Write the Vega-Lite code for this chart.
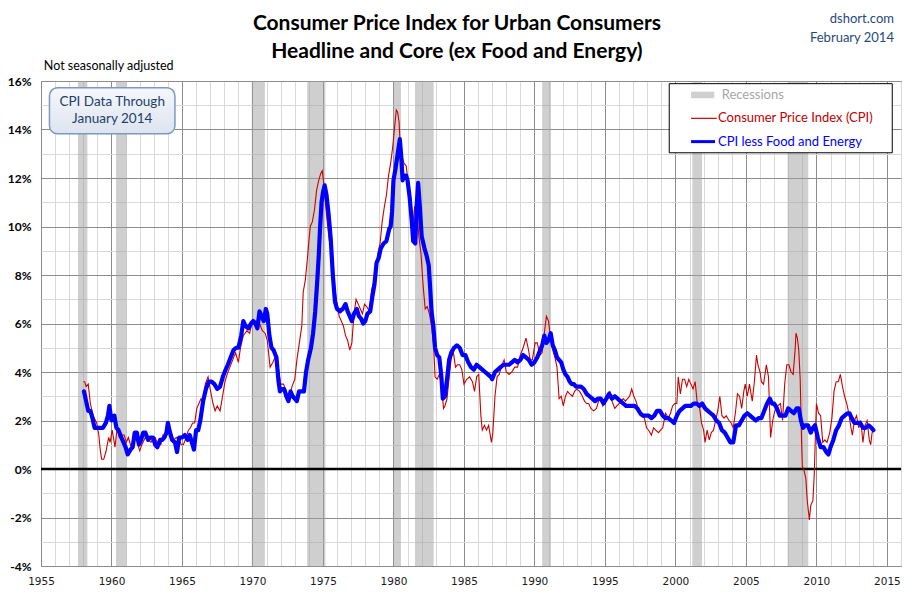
{
  "$schema": "https://vega.github.io/schema/vega-lite/v6.json",
  "width": 860,
  "height": 485,
  "autosize": {"type": "none"},
  "padding": {"left": 41, "top": 81, "right": 15, "bottom": 33},
  "background": "white",
  "config": {
    "view": {"stroke": "#7f7f7f", "strokeWidth": 1},
    "axisX": {"labelFont": "DejaVu Sans", "labelFontSize": 10.5, "labelPadding": 10, "ticks": false, "domain": false, "grid": true, "gridWidth": 1, "labelOverlap": false, "labelColor": "#1a1a1a", "labelFlush": false, "labelBound": false},
    "axisY": {"labelFont": "Lato", "labelFontSize": 12, "labelFontWeight": "bold", "labelPadding": 10, "ticks": false, "domain": false, "grid": true, "gridWidth": 1, "labelOverlap": false, "labelColor": "#000000", "labelFlush": false, "labelBound": false}
  },
  "datasets": {
    "recessions": [
      {"start": 1957.62, "end": 1958.29},
      {"start": 1960.32, "end": 1961.07},
      {"start": 1969.95, "end": 1970.88},
      {"start": 1973.88, "end": 1975.17},
      {"start": 1980.0, "end": 1980.53},
      {"start": 1981.53, "end": 1982.85},
      {"start": 1990.55, "end": 1991.17},
      {"start": 2001.2, "end": 2001.88},
      {"start": 2007.96, "end": 2009.42}
    ],
    "cpi": [
      {"t":1958.0,"v":3.6},{"t":1958.1,"v":3.6},{"t":1958.2,"v":3.4},{"t":1958.35,"v":3.5},{"t":1958.5,"v":2.7},{"t":1958.7,"v":2.2},{"t":1958.95,"v":1.9},
      {"t":1959.1,"v":1.4},{"t":1959.2,"v":0.8},{"t":1959.3,"v":0.4},{"t":1959.45,"v":0.4},{"t":1959.6,"v":0.7},{"t":1959.8,"v":1.3},{"t":1959.9,"v":1.1},
      {"t":1960.05,"v":1.6},{"t":1960.25,"v":0.9},{"t":1960.4,"v":1.7},{"t":1960.55,"v":1.3},{"t":1960.7,"v":1.4},{"t":1960.9,"v":1.4},
      {"t":1961.05,"v":1.1},{"t":1961.2,"v":1.3},{"t":1961.45,"v":0.8},{"t":1961.6,"v":1.3},{"t":1961.8,"v":1.15},
      {"t":1962.0,"v":0.75},{"t":1962.15,"v":1.0},{"t":1962.4,"v":1.3},{"t":1962.6,"v":1.2},{"t":1962.8,"v":1.1},{"t":1962.95,"v":1.3},
      {"t":1963.1,"v":1.3},{"t":1963.3,"v":1.0},{"t":1963.5,"v":1.0},{"t":1963.65,"v":1.4},{"t":1963.85,"v":1.3},
      {"t":1964.0,"v":1.6},{"t":1964.2,"v":1.6},{"t":1964.4,"v":1.2},{"t":1964.6,"v":1.3},{"t":1964.8,"v":1.2},{"t":1964.95,"v":1.0},
      {"t":1965.1,"v":1.0},{"t":1965.3,"v":1.3},{"t":1965.45,"v":1.6},{"t":1965.6,"v":1.7},{"t":1965.75,"v":1.9},{"t":1965.9,"v":1.9},
      {"t":1966.05,"v":2.5},{"t":1966.2,"v":2.7},{"t":1966.35,"v":2.9},{"t":1966.5,"v":2.8},{"t":1966.65,"v":3.5},{"t":1966.85,"v":3.8},
      {"t":1967.0,"v":3.3},{"t":1967.2,"v":2.7},{"t":1967.35,"v":2.4},{"t":1967.5,"v":2.6},{"t":1967.7,"v":2.4},{"t":1967.85,"v":2.9},
      {"t":1968.05,"v":3.6},{"t":1968.2,"v":3.9},{"t":1968.4,"v":4.2},{"t":1968.6,"v":4.5},{"t":1968.8,"v":4.8},
      {"t":1969.0,"v":4.4},{"t":1969.15,"v":5.0},{"t":1969.35,"v":5.5},{"t":1969.6,"v":5.7},{"t":1969.8,"v":5.6},{"t":1969.95,"v":6.0},
      {"t":1970.15,"v":6.1},{"t":1970.3,"v":6.1},{"t":1970.5,"v":6.0},{"t":1970.7,"v":5.7},{"t":1970.9,"v":5.6},
      {"t":1971.05,"v":5.3},{"t":1971.25,"v":4.2},{"t":1971.45,"v":4.4},{"t":1971.6,"v":4.6},{"t":1971.8,"v":4.3},
      {"t":1972.0,"v":3.5},{"t":1972.2,"v":3.5},{"t":1972.4,"v":3.2},{"t":1972.6,"v":2.9},{"t":1972.8,"v":3.4},
      {"t":1973.0,"v":3.7},{"t":1973.15,"v":4.5},{"t":1973.3,"v":5.1},{"t":1973.5,"v":5.9},{"t":1973.6,"v":7.3},{"t":1973.75,"v":7.8},{"t":1973.9,"v":8.7},
      {"t":1974.0,"v":9.4},{"t":1974.1,"v":10.0},{"t":1974.25,"v":10.2},{"t":1974.4,"v":10.7},{"t":1974.55,"v":11.5},{"t":1974.7,"v":11.9},{"t":1974.85,"v":12.2},{"t":1974.95,"v":12.3},
      {"t":1975.05,"v":11.8},{"t":1975.15,"v":11.1},{"t":1975.3,"v":10.2},{"t":1975.45,"v":9.4},{"t":1975.55,"v":9.7},{"t":1975.7,"v":8.6},{"t":1975.85,"v":7.4},
      {"t":1976.0,"v":6.8},{"t":1976.15,"v":6.3},{"t":1976.3,"v":6.1},{"t":1976.45,"v":5.9},{"t":1976.6,"v":5.5},{"t":1976.75,"v":5.3},{"t":1976.9,"v":4.9},
      {"t":1977.05,"v":5.2},{"t":1977.2,"v":6.4},{"t":1977.35,"v":7.0},{"t":1977.5,"v":6.8},{"t":1977.65,"v":6.6},{"t":1977.8,"v":6.4},{"t":1977.95,"v":6.8},
      {"t":1978.1,"v":6.7},{"t":1978.3,"v":6.5},{"t":1978.45,"v":7.4},{"t":1978.6,"v":7.7},{"t":1978.75,"v":8.3},{"t":1978.9,"v":8.9},
      {"t":1979.05,"v":9.3},{"t":1979.2,"v":10.2},{"t":1979.35,"v":10.8},{"t":1979.5,"v":11.3},{"t":1979.65,"v":12.1},{"t":1979.8,"v":12.6},{"t":1979.95,"v":13.3},
      {"t":1980.05,"v":13.9},{"t":1980.2,"v":14.8},{"t":1980.3,"v":14.7},{"t":1980.4,"v":14.3},{"t":1980.5,"v":13.1},{"t":1980.6,"v":12.9},{"t":1980.75,"v":12.6},{"t":1980.9,"v":12.5},
      {"t":1981.05,"v":11.8},{"t":1981.2,"v":10.5},{"t":1981.35,"v":9.9},{"t":1981.5,"v":10.8},{"t":1981.65,"v":10.9},{"t":1981.8,"v":9.6},{"t":1981.95,"v":8.9},
      {"t":1982.1,"v":7.6},{"t":1982.25,"v":6.6},{"t":1982.4,"v":6.7},{"t":1982.55,"v":6.4},{"t":1982.7,"v":5.9},{"t":1982.85,"v":5.1},{"t":1982.95,"v":3.8},
      {"t":1983.1,"v":3.7},{"t":1983.25,"v":3.9},{"t":1983.4,"v":3.5},{"t":1983.55,"v":2.5},{"t":1983.65,"v":2.6},{"t":1983.8,"v":2.9},{"t":1983.95,"v":3.8},
      {"t":1984.1,"v":4.6},{"t":1984.25,"v":4.8},{"t":1984.4,"v":4.2},{"t":1984.55,"v":4.3},{"t":1984.7,"v":4.3},{"t":1984.85,"v":4.1},
      {"t":1985.0,"v":3.5},{"t":1985.2,"v":3.7},{"t":1985.4,"v":3.8},{"t":1985.6,"v":3.6},{"t":1985.75,"v":3.2},{"t":1985.9,"v":3.8},
      {"t":1986.05,"v":3.9},{"t":1986.2,"v":2.2},{"t":1986.3,"v":1.6},{"t":1986.45,"v":1.8},{"t":1986.6,"v":1.6},{"t":1986.75,"v":1.8},{"t":1986.95,"v":1.1},
      {"t":1987.05,"v":1.5},{"t":1987.2,"v":3.0},{"t":1987.35,"v":3.8},{"t":1987.5,"v":3.9},{"t":1987.7,"v":4.3},{"t":1987.85,"v":4.5},
      {"t":1988.0,"v":4.0},{"t":1988.2,"v":3.9},{"t":1988.4,"v":4.0},{"t":1988.6,"v":4.2},{"t":1988.8,"v":4.2},
      {"t":1989.0,"v":4.7},{"t":1989.2,"v":5.0},{"t":1989.4,"v":5.4},{"t":1989.55,"v":5.0},{"t":1989.7,"v":4.5},{"t":1989.85,"v":4.5},
      {"t":1990.05,"v":5.2},{"t":1990.2,"v":5.2},{"t":1990.4,"v":4.7},{"t":1990.55,"v":4.8},{"t":1990.7,"v":5.6},{"t":1990.85,"v":6.3},
      {"t":1991.0,"v":6.1},{"t":1991.1,"v":5.6},{"t":1991.3,"v":4.9},{"t":1991.45,"v":4.6},{"t":1991.6,"v":4.2},{"t":1991.75,"v":2.9},{"t":1991.9,"v":3.0},
      {"t":1992.05,"v":2.6},{"t":1992.2,"v":3.0},{"t":1992.35,"v":3.2},{"t":1992.5,"v":3.1},{"t":1992.7,"v":3.0},{"t":1992.85,"v":3.2},
      {"t":1993.0,"v":3.3},{"t":1993.2,"v":3.2},{"t":1993.4,"v":3.0},{"t":1993.55,"v":2.8},{"t":1993.7,"v":2.7},{"t":1993.85,"v":2.7},
      {"t":1994.0,"v":2.5},{"t":1994.2,"v":2.4},{"t":1994.4,"v":2.5},{"t":1994.55,"v":2.8},{"t":1994.7,"v":2.9},{"t":1994.85,"v":2.6},
      {"t":1995.0,"v":2.8},{"t":1995.2,"v":3.1},{"t":1995.35,"v":3.2},{"t":1995.5,"v":2.8},{"t":1995.7,"v":2.5},{"t":1995.85,"v":2.6},
      {"t":1996.0,"v":2.7},{"t":1996.15,"v":2.8},{"t":1996.3,"v":2.9},{"t":1996.45,"v":2.8},{"t":1996.6,"v":2.9},{"t":1996.75,"v":3.0},{"t":1996.9,"v":3.3},
      {"t":1997.05,"v":3.0},{"t":1997.2,"v":2.8},{"t":1997.35,"v":2.5},{"t":1997.5,"v":2.2},{"t":1997.65,"v":2.2},{"t":1997.8,"v":2.1},{"t":1997.95,"v":1.7},
      {"t":1998.1,"v":1.6},{"t":1998.3,"v":1.4},{"t":1998.45,"v":1.7},{"t":1998.6,"v":1.6},{"t":1998.8,"v":1.5},{"t":1998.95,"v":1.6},
      {"t":1999.1,"v":1.7},{"t":1999.3,"v":2.3},{"t":1999.5,"v":2.1},{"t":1999.65,"v":2.3},{"t":1999.8,"v":2.6},{"t":1999.95,"v":2.7},
      {"t":2000.1,"v":2.7},{"t":2000.2,"v":3.8},{"t":2000.35,"v":3.1},{"t":2000.5,"v":3.7},{"t":2000.65,"v":3.7},{"t":2000.8,"v":3.4},{"t":2000.95,"v":3.7},
      {"t":2001.1,"v":3.5},{"t":2001.25,"v":3.3},{"t":2001.4,"v":3.6},{"t":2001.55,"v":2.7},{"t":2001.7,"v":2.6},{"t":2001.85,"v":1.9},
      {"t":2002.0,"v":1.6},{"t":2002.1,"v":1.1},{"t":2002.25,"v":1.6},{"t":2002.4,"v":1.2},{"t":2002.55,"v":1.5},{"t":2002.7,"v":1.6},{"t":2002.85,"v":2.0},
      {"t":2003.0,"v":2.4},{"t":2003.15,"v":3.0},{"t":2003.3,"v":2.2},{"t":2003.45,"v":2.1},{"t":2003.6,"v":2.2},{"t":2003.8,"v":2.0},{"t":2003.95,"v":1.9},
      {"t":2004.1,"v":1.7},{"t":2004.25,"v":2.3},{"t":2004.4,"v":3.1},{"t":2004.55,"v":3.0},{"t":2004.7,"v":2.5},{"t":2004.85,"v":3.2},{"t":2004.95,"v":3.5},
      {"t":2005.1,"v":3.0},{"t":2005.25,"v":3.5},{"t":2005.45,"v":2.8},{"t":2005.6,"v":3.6},{"t":2005.75,"v":4.7},{"t":2005.85,"v":4.3},
      {"t":2006.0,"v":4.0},{"t":2006.1,"v":3.6},{"t":2006.25,"v":3.5},{"t":2006.45,"v":4.3},{"t":2006.6,"v":3.8},{"t":2006.75,"v":1.3},{"t":2006.9,"v":2.0},
      {"t":2007.05,"v":2.4},{"t":2007.25,"v":2.6},{"t":2007.45,"v":2.7},{"t":2007.6,"v":2.0},{"t":2007.75,"v":3.5},{"t":2007.9,"v":4.3},
      {"t":2008.05,"v":4.3},{"t":2008.2,"v":4.0},{"t":2008.35,"v":3.9},{"t":2008.5,"v":5.0},{"t":2008.55,"v":5.6},{"t":2008.65,"v":5.4},{"t":2008.75,"v":4.9},{"t":2008.85,"v":3.7},{"t":2008.95,"v":1.1},
      {"t":2009.0,"v":0.1},{"t":2009.1,"v":0.0},{"t":2009.25,"v":-0.4},{"t":2009.35,"v":-1.3},{"t":2009.5,"v":-2.1},{"t":2009.6,"v":-1.5},{"t":2009.75,"v":-1.3},{"t":2009.85,"v":-0.2},{"t":2009.95,"v":1.8},
      {"t":2010.0,"v":2.7},{"t":2010.15,"v":2.3},{"t":2010.3,"v":2.2},{"t":2010.45,"v":1.1},{"t":2010.6,"v":1.2},{"t":2010.75,"v":1.1},{"t":2010.95,"v":1.5},
      {"t":2011.1,"v":2.1},{"t":2011.25,"v":3.2},{"t":2011.4,"v":3.6},{"t":2011.55,"v":3.6},{"t":2011.7,"v":3.9},{"t":2011.85,"v":3.4},
      {"t":2012.0,"v":3.0},{"t":2012.15,"v":2.7},{"t":2012.3,"v":2.3},{"t":2012.45,"v":1.7},{"t":2012.55,"v":1.4},{"t":2012.7,"v":2.0},{"t":2012.85,"v":2.2},
      {"t":2013.0,"v":1.7},{"t":2013.15,"v":2.0},{"t":2013.3,"v":1.1},{"t":2013.45,"v":1.8},{"t":2013.6,"v":2.0},{"t":2013.75,"v":1.2},{"t":2013.85,"v":1.0},{"t":2013.95,"v":1.5},{"t":2014.04,"v":1.6}
    ],
    "core": [
      {"t":1958.05,"v":3.2},{"t":1958.2,"v":2.8},{"t":1958.35,"v":2.4},{"t":1958.5,"v":2.4},{"t":1958.65,"v":2.1},{"t":1958.8,"v":1.7},
      {"t":1959.0,"v":1.7},{"t":1959.2,"v":1.7},{"t":1959.4,"v":1.7},{"t":1959.6,"v":1.9},{"t":1959.75,"v":2.2},{"t":1959.85,"v":2.6},
      {"t":1960.0,"v":2.0},{"t":1960.2,"v":2.2},{"t":1960.35,"v":1.7},{"t":1960.5,"v":1.6},{"t":1960.7,"v":1.3},{"t":1960.85,"v":1.1},
      {"t":1961.0,"v":0.9},{"t":1961.15,"v":0.6},{"t":1961.35,"v":0.8},{"t":1961.5,"v":0.9},{"t":1961.65,"v":1.5},{"t":1961.8,"v":1.5},{"t":1961.95,"v":1.0},
      {"t":1962.1,"v":1.2},{"t":1962.25,"v":1.5},{"t":1962.4,"v":1.5},{"t":1962.6,"v":1.2},{"t":1962.75,"v":1.3},{"t":1962.95,"v":1.3},
      {"t":1963.1,"v":1.0},{"t":1963.25,"v":0.9},{"t":1963.45,"v":1.2},{"t":1963.6,"v":1.2},{"t":1963.75,"v":1.3},{"t":1963.9,"v":1.5},
      {"t":1964.0,"v":1.9},{"t":1964.15,"v":1.5},{"t":1964.3,"v":1.2},{"t":1964.5,"v":1.1},{"t":1964.65,"v":0.7},{"t":1964.8,"v":1.3},
      {"t":1965.0,"v":1.3},{"t":1965.2,"v":1.4},{"t":1965.4,"v":1.2},{"t":1965.55,"v":1.4},{"t":1965.7,"v":1.1},{"t":1965.85,"v":0.8},
      {"t":1966.0,"v":1.6},{"t":1966.15,"v":1.6},{"t":1966.3,"v":2.0},{"t":1966.5,"v":2.8},{"t":1966.7,"v":3.3},{"t":1966.9,"v":3.6},
      {"t":1967.1,"v":3.6},{"t":1967.3,"v":3.5},{"t":1967.5,"v":3.3},{"t":1967.7,"v":3.4},{"t":1967.9,"v":3.8},
      {"t":1968.1,"v":4.1},{"t":1968.25,"v":4.3},{"t":1968.45,"v":4.6},{"t":1968.65,"v":4.9},{"t":1968.85,"v":5.0},
      {"t":1969.0,"v":5.0},{"t":1969.2,"v":5.5},{"t":1969.35,"v":6.1},{"t":1969.5,"v":5.9},{"t":1969.7,"v":5.8},{"t":1969.9,"v":6.0},
      {"t":1970.05,"v":6.1},{"t":1970.2,"v":6.0},{"t":1970.35,"v":5.8},{"t":1970.5,"v":6.5},{"t":1970.65,"v":6.3},{"t":1970.8,"v":6.1},{"t":1970.95,"v":6.6},
      {"t":1971.05,"v":6.4},{"t":1971.2,"v":5.5},{"t":1971.35,"v":5.0},{"t":1971.5,"v":4.9},{"t":1971.7,"v":4.6},{"t":1971.85,"v":3.6},{"t":1971.95,"v":3.2},
      {"t":1972.1,"v":3.3},{"t":1972.25,"v":3.3},{"t":1972.4,"v":3.0},{"t":1972.55,"v":2.8},{"t":1972.7,"v":3.2},{"t":1972.85,"v":3.0},
      {"t":1973.0,"v":2.9},{"t":1973.15,"v":2.8},{"t":1973.3,"v":3.2},{"t":1973.5,"v":3.2},{"t":1973.65,"v":3.2},{"t":1973.8,"v":4.0},{"t":1973.95,"v":4.5},
      {"t":1974.15,"v":5.0},{"t":1974.3,"v":5.6},{"t":1974.45,"v":6.5},{"t":1974.6,"v":7.8},{"t":1974.7,"v":8.8},{"t":1974.8,"v":10.0},{"t":1974.9,"v":11.0},
      {"t":1975.0,"v":11.4},{"t":1975.12,"v":11.7},{"t":1975.25,"v":11.3},{"t":1975.4,"v":10.5},{"t":1975.55,"v":9.5},{"t":1975.7,"v":8.0},{"t":1975.85,"v":6.9},
      {"t":1976.0,"v":6.6},{"t":1976.2,"v":6.5},{"t":1976.4,"v":6.6},{"t":1976.6,"v":6.8},{"t":1976.75,"v":6.5},{"t":1976.9,"v":6.3},
      {"t":1977.05,"v":6.1},{"t":1977.2,"v":6.4},{"t":1977.4,"v":6.6},{"t":1977.55,"v":6.3},{"t":1977.7,"v":6.2},{"t":1977.85,"v":6.0},
      {"t":1978.0,"v":6.1},{"t":1978.15,"v":6.4},{"t":1978.35,"v":6.5},{"t":1978.5,"v":7.1},{"t":1978.65,"v":7.6},{"t":1978.8,"v":8.5},{"t":1978.95,"v":8.7},
      {"t":1979.1,"v":9.1},{"t":1979.3,"v":9.3},{"t":1979.5,"v":9.4},{"t":1979.7,"v":9.9},{"t":1979.8,"v":10.0},{"t":1979.9,"v":10.6},
      {"t":1980.0,"v":11.9},{"t":1980.15,"v":12.4},{"t":1980.3,"v":13.0},{"t":1980.45,"v":13.6},{"t":1980.55,"v":12.9},{"t":1980.65,"v":11.9},{"t":1980.75,"v":12.1},{"t":1980.9,"v":12.1},
      {"t":1981.0,"v":11.9},{"t":1981.15,"v":11.2},{"t":1981.3,"v":10.2},{"t":1981.4,"v":9.4},{"t":1981.55,"v":9.3},{"t":1981.65,"v":10.9},{"t":1981.75,"v":11.8},{"t":1981.85,"v":11.0},
      {"t":1982.0,"v":9.6},{"t":1982.2,"v":9.1},{"t":1982.35,"v":8.8},{"t":1982.5,"v":8.4},{"t":1982.6,"v":7.5},{"t":1982.7,"v":6.5},{"t":1982.83,"v":5.9},{"t":1982.95,"v":5.0},
      {"t":1983.1,"v":4.7},{"t":1983.25,"v":4.6},{"t":1983.4,"v":3.8},{"t":1983.5,"v":2.9},{"t":1983.65,"v":3.0},{"t":1983.8,"v":3.7},{"t":1983.95,"v":4.5},
      {"t":1984.1,"v":4.8},{"t":1984.3,"v":5.0},{"t":1984.5,"v":5.1},{"t":1984.7,"v":5.0},{"t":1984.9,"v":4.7},
      {"t":1985.1,"v":4.7},{"t":1985.3,"v":4.4},{"t":1985.5,"v":4.2},{"t":1985.7,"v":4.1},{"t":1985.9,"v":4.3},
      {"t":1986.1,"v":4.2},{"t":1986.3,"v":4.1},{"t":1986.5,"v":4.0},{"t":1986.7,"v":3.9},{"t":1986.9,"v":3.8},
      {"t":1987.0,"v":3.7},{"t":1987.2,"v":4.0},{"t":1987.4,"v":4.1},{"t":1987.6,"v":4.2},{"t":1987.8,"v":4.3},
      {"t":1988.0,"v":4.3},{"t":1988.2,"v":4.3},{"t":1988.4,"v":4.4},{"t":1988.6,"v":4.5},{"t":1988.8,"v":4.4},
      {"t":1989.0,"v":4.5},{"t":1989.2,"v":4.7},{"t":1989.4,"v":4.6},{"t":1989.6,"v":4.5},{"t":1989.8,"v":4.3},
      {"t":1990.0,"v":4.4},{"t":1990.2,"v":4.6},{"t":1990.4,"v":4.9},{"t":1990.55,"v":5.1},{"t":1990.7,"v":5.5},{"t":1990.85,"v":5.2},
      {"t":1991.0,"v":5.3},{"t":1991.15,"v":5.6},{"t":1991.3,"v":5.1},{"t":1991.45,"v":4.9},{"t":1991.6,"v":4.6},{"t":1991.75,"v":4.5},{"t":1991.9,"v":4.4},
      {"t":1992.05,"v":4.1},{"t":1992.2,"v":3.9},{"t":1992.35,"v":3.8},{"t":1992.5,"v":3.6},{"t":1992.65,"v":3.5},{"t":1992.8,"v":3.5},{"t":1992.95,"v":3.4},
      {"t":1993.1,"v":3.4},{"t":1993.3,"v":3.4},{"t":1993.5,"v":3.3},{"t":1993.7,"v":3.1},{"t":1993.9,"v":3.0},
      {"t":1994.1,"v":2.9},{"t":1994.3,"v":2.8},{"t":1994.5,"v":2.9},{"t":1994.7,"v":2.9},{"t":1994.9,"v":2.7},
      {"t":1995.1,"v":2.9},{"t":1995.3,"v":3.1},{"t":1995.5,"v":2.9},{"t":1995.7,"v":3.0},{"t":1995.9,"v":2.9},
      {"t":1996.1,"v":2.8},{"t":1996.3,"v":2.7},{"t":1996.5,"v":2.6},{"t":1996.7,"v":2.6},{"t":1996.9,"v":2.6},
      {"t":1997.1,"v":2.6},{"t":1997.3,"v":2.5},{"t":1997.5,"v":2.3},{"t":1997.7,"v":2.2},{"t":1997.9,"v":2.2},
      {"t":1998.1,"v":2.2},{"t":1998.3,"v":2.1},{"t":1998.5,"v":2.2},{"t":1998.7,"v":2.4},{"t":1998.9,"v":2.4},
      {"t":1999.1,"v":2.2},{"t":1999.3,"v":2.1},{"t":1999.5,"v":2.1},{"t":1999.7,"v":2.0},{"t":1999.9,"v":1.9},
      {"t":2000.1,"v":2.2},{"t":2000.3,"v":2.4},{"t":2000.5,"v":2.5},{"t":2000.7,"v":2.6},{"t":2000.9,"v":2.6},
      {"t":2001.1,"v":2.6},{"t":2001.3,"v":2.7},{"t":2001.5,"v":2.7},{"t":2001.7,"v":2.6},{"t":2001.9,"v":2.7},
      {"t":2002.1,"v":2.5},{"t":2002.3,"v":2.4},{"t":2002.5,"v":2.3},{"t":2002.7,"v":2.2},{"t":2002.9,"v":2.0},
      {"t":2003.1,"v":1.9},{"t":2003.3,"v":1.6},{"t":2003.5,"v":1.5},{"t":2003.7,"v":1.3},{"t":2003.9,"v":1.1},
      {"t":2004.1,"v":1.1},{"t":2004.3,"v":1.8},{"t":2004.5,"v":1.8},{"t":2004.7,"v":2.0},{"t":2004.9,"v":2.2},
      {"t":2005.1,"v":2.3},{"t":2005.3,"v":2.2},{"t":2005.5,"v":2.1},{"t":2005.7,"v":2.0},{"t":2005.9,"v":2.1},
      {"t":2006.1,"v":2.1},{"t":2006.3,"v":2.4},{"t":2006.5,"v":2.7},{"t":2006.7,"v":2.9},{"t":2006.85,"v":2.7},
      {"t":2007.0,"v":2.7},{"t":2007.2,"v":2.5},{"t":2007.4,"v":2.2},{"t":2007.6,"v":2.2},{"t":2007.8,"v":2.2},
      {"t":2008.0,"v":2.5},{"t":2008.2,"v":2.4},{"t":2008.4,"v":2.3},{"t":2008.6,"v":2.5},{"t":2008.75,"v":2.5},{"t":2008.9,"v":2.0},
      {"t":2009.05,"v":1.7},{"t":2009.2,"v":1.8},{"t":2009.4,"v":1.8},{"t":2009.6,"v":1.5},{"t":2009.75,"v":1.7},{"t":2009.9,"v":1.8},
      {"t":2010.1,"v":1.3},{"t":2010.3,"v":0.9},{"t":2010.5,"v":0.9},{"t":2010.7,"v":0.7},{"t":2010.85,"v":0.6},
      {"t":2011.0,"v":0.9},{"t":2011.2,"v":1.2},{"t":2011.4,"v":1.6},{"t":2011.6,"v":1.8},{"t":2011.8,"v":2.1},
      {"t":2012.0,"v":2.2},{"t":2012.2,"v":2.3},{"t":2012.35,"v":2.3},{"t":2012.5,"v":2.1},{"t":2012.7,"v":1.9},{"t":2012.9,"v":1.9},
      {"t":2013.1,"v":1.9},{"t":2013.3,"v":1.7},{"t":2013.5,"v":1.7},{"t":2013.7,"v":1.8},{"t":2013.9,"v":1.7},{"t":2014.04,"v":1.6}
    ]
  },
  "layer": [
    {
      "data": {"name": "recessions"},
      "mark": {"type": "rect", "color": "#a0a0a0", "opacity": 0.5},
      "encoding": {
        "x": {"field": "start", "type": "quantitative", "scale": {"domain": [1955, 2016], "nice": false, "zero": false},
          "axis": {"title": null, "tickCount": 61, "labelExpr": "datum.value % 5 === 0 ? '' + datum.value : ''", "gridColor": {"condition": {"test": "datum.value % 5 === 0", "value": "#8c8c8c"}, "value": "#d9d9d9"}}},
        "x2": {"field": "end"}
      }
    },
    {
      "data": {"values": [{}]},
      "mark": {"type": "rule", "color": "#000000", "strokeWidth": 2.5},
      "encoding": {
        "y": {"datum": 0, "type": "quantitative", "scale": {"domain": [-4, 16], "nice": false},
          "axis": {"title": null, "tickCount": 20, "labelExpr": "datum.value % 2 === 0 ? datum.value + '%' : ''", "gridColor": {"condition": {"test": "datum.value % 2 === 0", "value": "#8c8c8c"}, "value": "#d9d9d9"}}}
      }
    },
    {
      "data": {"name": "cpi"},
      "mark": {"type": "line", "color": "#cc0000", "strokeWidth": 1.1},
      "encoding": {
        "x": {"field": "t", "type": "quantitative",
          "axis": {"title": null, "tickCount": 61, "labelExpr": "datum.value % 5 === 0 ? '' + datum.value : ''", "gridColor": {"condition": {"test": "datum.value % 5 === 0", "value": "#8c8c8c"}, "value": "#d9d9d9"}}},
        "y": {"field": "v", "type": "quantitative",
          "axis": {"title": null, "tickCount": 20, "labelExpr": "datum.value % 2 === 0 ? datum.value + '%' : ''", "gridColor": {"condition": {"test": "datum.value % 2 === 0", "value": "#8c8c8c"}, "value": "#d9d9d9"}}}
      }
    },
    {
      "data": {"name": "core"},
      "mark": {"type": "line", "color": "#0000ff", "strokeWidth": 4.2, "strokeJoin": "round", "strokeCap": "round"},
      "encoding": {
        "x": {"field": "t", "type": "quantitative",
          "axis": {"title": null, "tickCount": 61, "labelExpr": "datum.value % 5 === 0 ? '' + datum.value : ''", "gridColor": {"condition": {"test": "datum.value % 5 === 0", "value": "#8c8c8c"}, "value": "#d9d9d9"}}},
        "y": {"field": "v", "type": "quantitative",
          "axis": {"title": null, "tickCount": 20, "labelExpr": "datum.value % 2 === 0 ? datum.value + '%' : ''", "gridColor": {"condition": {"test": "datum.value % 2 === 0", "value": "#8c8c8c"}, "value": "#d9d9d9"}}}
      }
    },
    {
      "data": {"values": [{}]},
      "mark": {"type": "rect", "cornerRadius": 8, "stroke": "#7d98c4", "strokeWidth": 1.5,
        "fill": {"gradient": "linear", "x1": 0, "y1": 0, "x2": 0, "y2": 1, "stops": [{"offset": 0, "color": "#f5f7fb"}, {"offset": 1, "color": "#dde4ef"}]}},
      "encoding": {
        "x": {"datum": 1955.6, "type": "quantitative"},
        "x2": {"datum": 1964.5},
        "y": {"datum": 15.72, "type": "quantitative"},
        "y2": {"datum": 13.82}
      }
    },
    {
      "data": {"values": [{}]},
      "mark": {"type": "text", "font": "Lato", "fontSize": 13.5, "color": "#243f6b", "align": "center", "baseline": "middle", "lineHeight": 17},
      "encoding": {
        "x": {"datum": 1960.05, "type": "quantitative"},
        "y": {"datum": 15.15, "type": "quantitative"},
        "text": {"value": ["CPI Data Through", "January 2014"]}
      }
    },
    {
      "data": {"values": [{}]},
      "mark": {"type": "text", "font": "Lato", "fontSize": 21, "fontWeight": "bold", "color": "#000000", "align": "center", "baseline": "middle", "lineHeight": 28},
      "encoding": {
        "x": {"datum": 1984.5, "type": "quantitative"},
        "y": {"datum": 18.35, "type": "quantitative"},
        "text": {"value": ["Consumer Price Index for Urban Consumers", "Headline and Core (ex Food and Energy)"]}
      }
    },
    {
      "data": {"values": [{}]},
      "mark": {"type": "text", "font": "Lato", "fontSize": 12.5, "color": "#000000", "align": "left", "baseline": "middle"},
      "encoding": {
        "x": {"datum": 1955.2, "type": "quantitative"},
        "y": {"datum": 16.62, "type": "quantitative"},
        "text": {"value": "Not seasonally adjusted"}
      }
    },
    {
      "data": {"values": [{}]},
      "mark": {"type": "text", "font": "Lato", "fontSize": 13, "color": "#1f497d", "align": "right", "baseline": "middle", "lineHeight": 19},
      "encoding": {
        "x": {"datum": 2015.5, "type": "quantitative"},
        "y": {"datum": 18.57, "type": "quantitative"},
        "text": {"value": ["dshort.com", "February 2014"]}
      }
    },
    {
      "data": {"values": [{}]},
      "mark": {"type": "rect", "fill": "#ffffff", "stroke": "#000000", "strokeWidth": 1},
      "encoding": {
        "x": {"datum": 1999.56, "type": "quantitative"},
        "x2": {"datum": 2015.38},
        "y": {"datum": 15.89, "type": "quantitative"},
        "y2": {"datum": 13.04}
      }
    },
    {
      "data": {"values": [{}]},
      "mark": {"type": "rect", "fill": "#d0d0d0"},
      "encoding": {
        "x": {"datum": 2001.11, "type": "quantitative"},
        "x2": {"datum": 2002.76},
        "y": {"datum": 15.56, "type": "quantitative"},
        "y2": {"datum": 15.29}
      }
    },
    {
      "data": {"values": [{}]},
      "mark": {"type": "rule", "color": "#cc0000", "strokeWidth": 1.2},
      "encoding": {
        "x": {"datum": 2001.11, "type": "quantitative"},
        "x2": {"datum": 2002.93},
        "y": {"datum": 14.46, "type": "quantitative"}
      }
    },
    {
      "data": {"values": [{}]},
      "mark": {"type": "rule", "color": "#0000ff", "strokeWidth": 3},
      "encoding": {
        "x": {"datum": 2001.11, "type": "quantitative"},
        "x2": {"datum": 2002.81},
        "y": {"datum": 13.5, "type": "quantitative"}
      }
    },
    {
      "data": {"values": [{}]},
      "mark": {"type": "text", "font": "Lato", "fontSize": 13, "color": "#a6a6a6", "align": "left", "baseline": "middle"},
      "encoding": {
        "x": {"datum": 2003.28, "type": "quantitative"},
        "y": {"datum": 15.42, "type": "quantitative"},
        "text": {"value": "Recessions"}
      }
    },
    {
      "data": {"values": [{}]},
      "mark": {"type": "text", "font": "Lato", "fontSize": 13, "color": "#c00000", "align": "left", "baseline": "middle"},
      "encoding": {
        "x": {"datum": 2003.02, "type": "quantitative"},
        "y": {"datum": 14.46, "type": "quantitative"},
        "text": {"value": "Consumer Price Index (CPI)"}
      }
    },
    {
      "data": {"values": [{}]},
      "mark": {"type": "text", "font": "Lato", "fontSize": 13, "color": "#0000ff", "align": "left", "baseline": "middle"},
      "encoding": {
        "x": {"datum": 2003.02, "type": "quantitative"},
        "y": {"datum": 13.5, "type": "quantitative"},
        "text": {"value": "CPI less Food and Energy"}
      }
    }
  ]
}
